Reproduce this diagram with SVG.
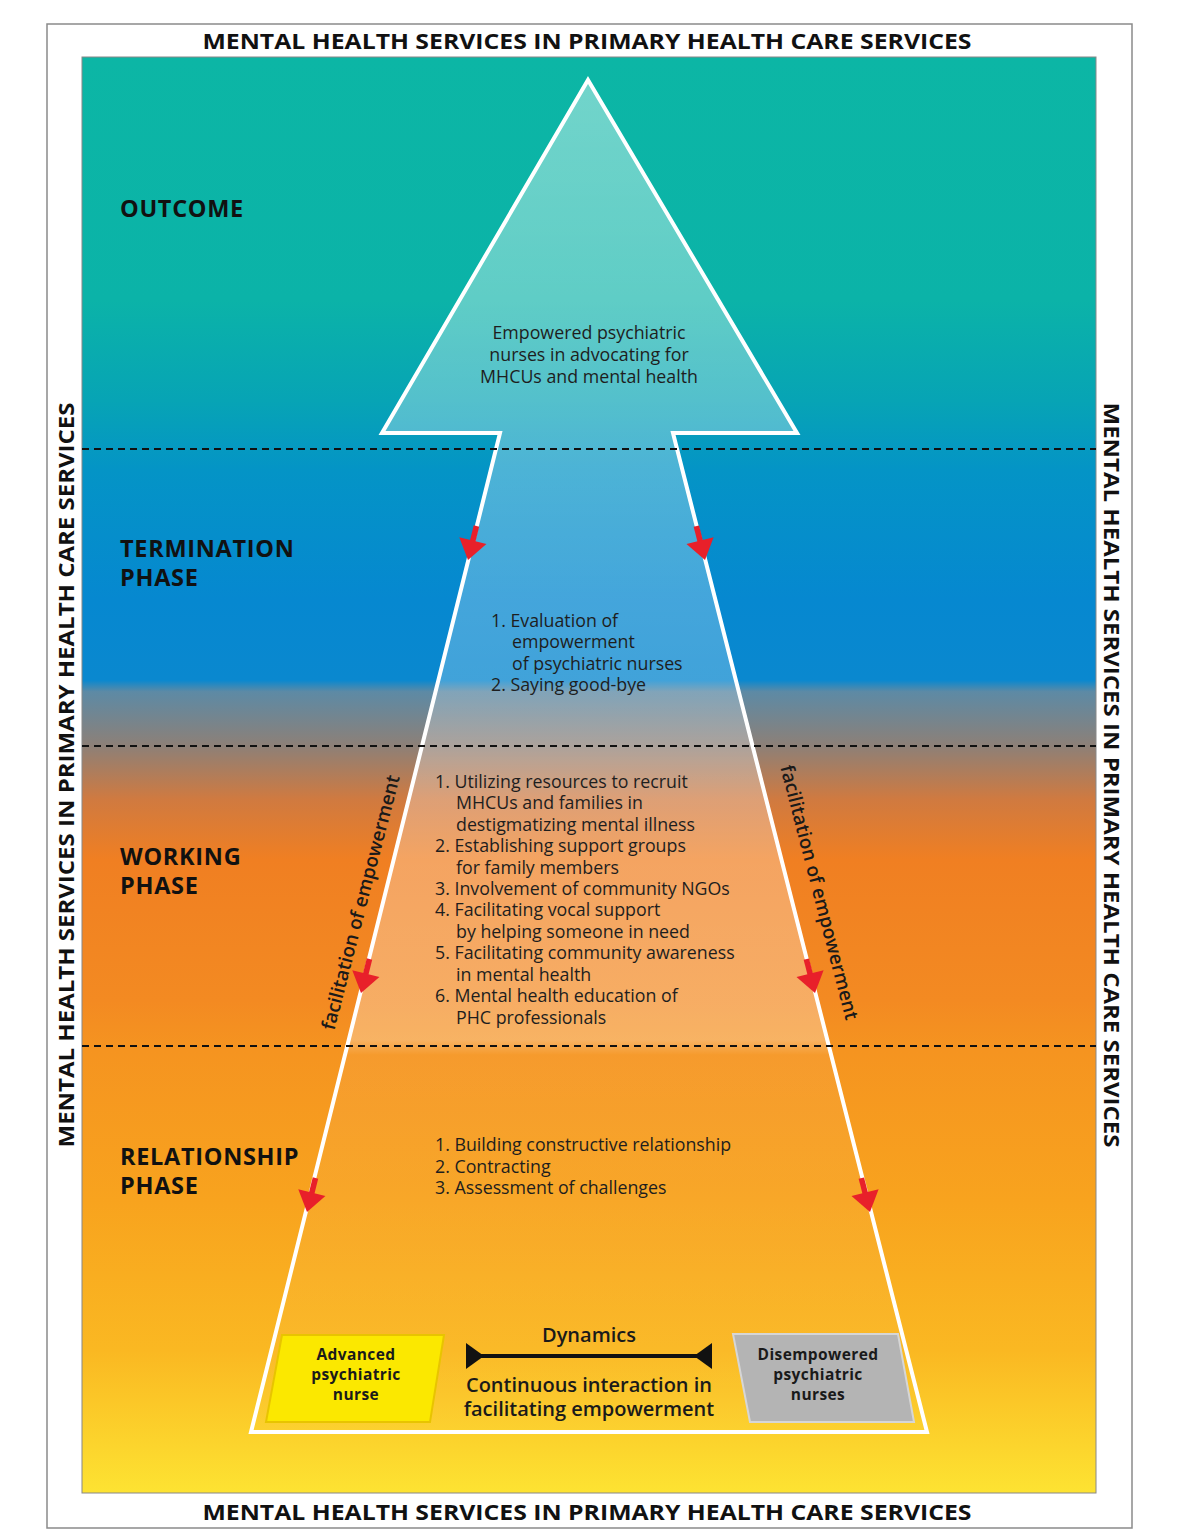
<svg xmlns="http://www.w3.org/2000/svg" xmlns:xlink="http://www.w3.org/1999/xlink" width="1200" height="1533" viewBox="0 0 1200 1533">
<style>
.title{font-family:"Open Sans","Liberation Sans",sans-serif;font-weight:700;font-size:21px;fill:#111;}
.phase{font-family:"Open Sans","Liberation Sans",sans-serif;font-weight:700;font-size:23.5px;fill:#111;letter-spacing:0.7px;}
.body{font-family:"Open Sans","Liberation Sans",sans-serif;font-size:17.8px;font-weight:500;fill:#1e1e1e;}
.cen{text-anchor:middle;}
.fac{font-family:"Open Sans","Liberation Sans",sans-serif;font-size:19px;font-weight:600;fill:#1a1a1a;text-anchor:middle;}
.box{font-family:"Open Sans","Liberation Sans",sans-serif;font-size:15.5px;font-weight:700;fill:#1a1a1a;text-anchor:middle;letter-spacing:0.4px;}
.dyn{font-family:"Open Sans","Liberation Sans",sans-serif;font-size:20px;font-weight:600;fill:#1a1a1a;text-anchor:middle;}
.dash{stroke:#111;stroke-width:2;stroke-dasharray:7 5;fill:none;}
.red{fill:#e8202a;}
</style>
<defs>
<linearGradient id="bg" gradientUnits="userSpaceOnUse" x1="0" y1="57" x2="0" y2="1493">
<stop offset="0" stop-color="#0cb6a5"/>
<stop offset="0.169" stop-color="#0bb3a8"/>
<stop offset="0.239" stop-color="#07a4b5"/>
<stop offset="0.288" stop-color="#0494c6"/>
<stop offset="0.378" stop-color="#0688d0"/>
<stop offset="0.434" stop-color="#0a88cf"/>
<stop offset="0.442" stop-color="#5d8aa5"/>
<stop offset="0.479" stop-color="#8c8078"/>
<stop offset="0.517" stop-color="#d07a40"/>
<stop offset="0.559" stop-color="#f07f22"/>
<stop offset="0.657" stop-color="#f38a22"/>
<stop offset="0.692" stop-color="#f59420"/>
<stop offset="0.796" stop-color="#f8a31e"/>
<stop offset="0.901" stop-color="#fab822"/>
<stop offset="1" stop-color="#fde332"/>
</linearGradient>
<linearGradient id="ov" gradientUnits="userSpaceOnUse" x1="0" y1="80" x2="0" y2="1432">
<stop offset="0" stop-color="#fff" stop-opacity="0.42"/>
<stop offset="0.259" stop-color="#fff" stop-opacity="0.3"/>
<stop offset="0.451" stop-color="#fff" stop-opacity="0.22"/>
<stop offset="0.503" stop-color="#fff" stop-opacity="0.28"/>
<stop offset="0.71" stop-color="#fff" stop-opacity="0.3"/>
<stop offset="0.721" stop-color="#fff" stop-opacity="0.06"/>
<stop offset="1" stop-color="#fff" stop-opacity="0.02"/>
</linearGradient>
<g id="redArrow">
<rect class="red" x="-2.8" y="-35" width="5.6" height="19"/>
<path class="red" d="M-14,-20 L14,-20 L0,0 Z"/>
</g>
</defs>

<g id="frame">
<rect x="47" y="24" width="1085" height="1504" fill="#fff" stroke="#8a8a8a" stroke-width="1.5"/>
<rect x="82" y="57" width="1014" height="1436" fill="url(#bg)" stroke="#888" stroke-width="1"/>
</g>

<g id="titles">
<text class="title cen" x="587" y="49" textLength="769" lengthAdjust="spacingAndGlyphs">MENTAL HEALTH SERVICES IN PRIMARY HEALTH CARE SERVICES</text>
<text class="title cen" x="587" y="1520" textLength="769" lengthAdjust="spacingAndGlyphs">MENTAL HEALTH SERVICES IN PRIMARY HEALTH CARE SERVICES</text>
<text class="title cen" transform="translate(74,775) rotate(-90)" textLength="745" lengthAdjust="spacingAndGlyphs">MENTAL HEALTH SERVICES IN PRIMARY HEALTH CARE SERVICES</text>
<text class="title cen" transform="translate(1104,775) rotate(90)" textLength="745" lengthAdjust="spacingAndGlyphs">MENTAL HEALTH SERVICES IN PRIMARY HEALTH CARE SERVICES</text>
</g>

<g id="big-arrow">
<path d="M588,80 L797,433 L673,433 L927,1432 L251,1432 L500,433 L382,433 Z" fill="url(#ov)" stroke="#fff" stroke-width="4" stroke-linejoin="miter"/>
</g>

<g id="dividers">
<line class="dash" x1="82" y1="449" x2="1096" y2="449"/>
<line class="dash" x1="82" y1="746" x2="1096" y2="746"/>
<line class="dash" x1="82" y1="1046" x2="1096" y2="1046"/>
</g>

<g id="outcome">
<text class="phase" x="120" y="217">OUTCOME</text>
<text class="body cen" x="589" y="339">Empowered psychiatric</text>
<text class="body cen" x="589" y="361">nurses in advocating for</text>
<text class="body cen" x="589" y="383">MHCUs and mental health</text>
</g>

<g id="termination-phase">
<text class="phase" x="120" y="557">TERMINATION</text>
<text class="phase" x="120" y="586">PHASE</text>
<text class="body" x="491" y="627">1. Evaluation of</text>
<text class="body" x="512" y="648">empowerment</text>
<text class="body" x="512" y="670">of psychiatric nurses</text>
<text class="body" x="491" y="691">2. Saying good-bye</text>
</g>

<g id="working-phase">
<text class="phase" x="120" y="865">WORKING</text>
<text class="phase" x="120" y="894">PHASE</text>
<text class="body" x="435" y="788">1. Utilizing resources to recruit</text>
<text class="body" x="456" y="809">MHCUs and families in</text>
<text class="body" x="456" y="831">destigmatizing mental illness</text>
<text class="body" x="435" y="852">2. Establishing support groups</text>
<text class="body" x="456" y="874">for family members</text>
<text class="body" x="435" y="895">3. Involvement of community NGOs</text>
<text class="body" x="435" y="916">4. Facilitating vocal support</text>
<text class="body" x="456" y="938">by helping someone in need</text>
<text class="body" x="435" y="959">5. Facilitating community awareness</text>
<text class="body" x="456" y="981">in mental health</text>
<text class="body" x="435" y="1002">6. Mental health education of</text>
<text class="body" x="456" y="1024">PHC professionals</text>
</g>

<g id="relationship-phase">
<text class="phase" x="120" y="1165">RELATIONSHIP</text>
<text class="phase" x="120" y="1194">PHASE</text>
<text class="body" x="435" y="1151">1. Building constructive relationship</text>
<text class="body" x="435" y="1173">2. Contracting</text>
<text class="body" x="435" y="1194">3. Assessment of challenges</text>
</g>

<g id="facilitation-labels">
<text class="fac" transform="translate(367,904) rotate(-75.5)">facilitation of empowerment</text>
<text class="fac" transform="translate(813,894) rotate(75.5)">facilitation of empowerment</text>
</g>

<g id="advanced-nurse">
<path d="M282,1335 L444,1335 L430,1422 L266,1422 Z" fill="#fbe800" stroke="#e8c400" stroke-width="2"/>
<text class="box" x="356" y="1360">Advanced</text>
<text class="box" x="356" y="1380">psychiatric</text>
<text class="box" x="356" y="1400">nurse</text>
</g>

<g id="disempowered-nurses">
<path d="M733,1334 L898,1334 L914,1422 L750,1422 Z" fill="#b4b4b4" stroke="#d6d6d6" stroke-width="2"/>
<text class="box" x="818" y="1360">Disempowered</text>
<text class="box" x="818" y="1380">psychiatric</text>
<text class="box" x="818" y="1400">nurses</text>
</g>

<g id="dynamics">
<text class="dyn" x="589" y="1342">Dynamics</text>
<text class="dyn" x="589" y="1392">Continuous interaction in</text>
<text class="dyn" x="589" y="1416">facilitating empowerment</text>
</g>

<g id="connectors">
<line x1="470" y1="1356" x2="708" y2="1356" stroke="#111" stroke-width="4"/>
<path d="M466,1343 L466,1369 L484,1356 Z" fill="#111"/>
<path d="M712,1343 L712,1369 L694,1356 Z" fill="#111"/>
<use xlink:href="#redArrow" transform="translate(468,560) rotate(14)"/>
<use xlink:href="#redArrow" transform="translate(705,560) rotate(-14.3)"/>
<use xlink:href="#redArrow" transform="translate(361,993) rotate(14)"/>
<use xlink:href="#redArrow" transform="translate(815,993) rotate(-14.3)"/>
<use xlink:href="#redArrow" transform="translate(307,1212) rotate(14)"/>
<use xlink:href="#redArrow" transform="translate(870,1212) rotate(-14.3)"/>
</g>
</svg>
